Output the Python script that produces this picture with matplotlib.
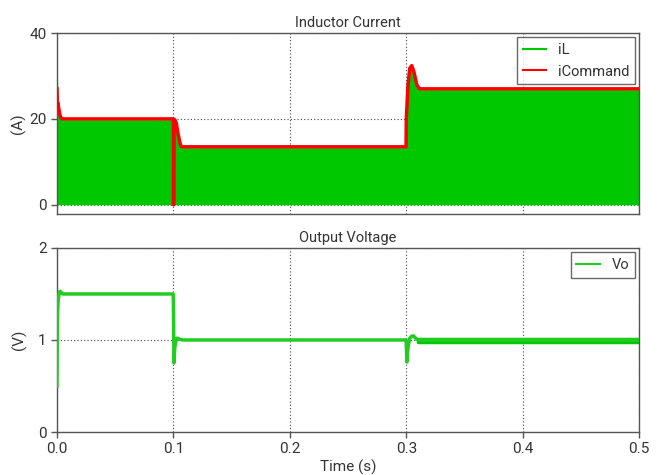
import matplotlib
matplotlib.use("Agg")
import matplotlib.pyplot as plt
from matplotlib.lines import Line2D

# ---------------------------------------------------------------------------
# Data (time in s)
# ---------------------------------------------------------------------------
# iL switching envelope: the ripple spans from 0 up to this upper edge
IL_T = [0.0, 0.0002, 0.0006, 0.0012, 0.002, 0.003, 0.0045, 0.0998,
        0.1, 0.1003, 0.1012, 0.1025, 0.104, 0.106, 0.107, 0.2995,
        0.3, 0.3015, 0.303, 0.3047, 0.3065, 0.309, 0.311, 0.312, 0.5]
IL_HI = [0.0, 33.5, 28.0, 24.0, 22.5, 21.0, 19.8, 19.8,
         19.6, 19.5, 19.6, 18.8, 16.5, 14.0, 13.3, 13.3,
         20.0, 27.5, 31.6, 32.1, 30.8, 27.8, 26.9, 26.8, 26.8]
IL_LO = 0.0

ICMD_T = [0.0, 0.0003, 0.0008, 0.0015, 0.0025, 0.0035, 0.0045, 0.0998,
          0.1, 0.10015, 0.1004, 0.1012, 0.1025, 0.104, 0.106, 0.107,
          0.2998, 0.3, 0.3015, 0.303, 0.3047, 0.3065, 0.309, 0.311,
          0.312, 0.5]
ICMD = [27.0, 23.5, 23.8, 22.5, 21.0, 20.2, 20.0, 20.0,
        20.0, 0.0, 19.5, 19.8, 19.0, 16.5, 14.0, 13.5,
        13.5, 20.0, 28.0, 31.8, 32.4, 31.0, 28.0, 27.1,
        27.0, 27.0]

VO_T = [0.0, 0.0004, 0.001, 0.0018, 0.0026, 0.005, 0.0998,
        0.1, 0.1005, 0.1012, 0.102, 0.103, 0.105, 0.108, 0.2998,
        0.3, 0.3005, 0.3012, 0.302, 0.303, 0.3045, 0.306, 0.308, 0.31, 0.5]
VO = [0.5, 1.25, 1.42, 1.5, 1.53, 1.5, 1.5,
      1.4, 0.75, 0.92, 0.98, 1.02, 1.01, 1.0, 1.0,
      0.95, 0.76, 0.88, 0.96, 1.02, 1.04, 1.045, 1.02, 1.0, 1.0]
# steady-state ripple band of Vo after the second step
VO_BAND_T = [0.31, 0.5]
VO_BAND_LO = [0.975, 0.975]
VO_BAND_HI = [1.015, 1.015]

GREEN = "#00c800"
VO_GREEN = "#22cc22"
RED = "#ff0000"
SPINE = "#555555"
TXT = "#333333"

plt.rcParams["font.family"] = ["Roboto", "DejaVu Sans"]

fig = plt.figure(figsize=(6.7, 4.75), dpi=100)
ax1 = fig.add_axes([0.085, 0.549, 0.869, 0.3815])
ax2 = fig.add_axes([0.085, 0.0905, 0.869, 0.3875])


def style(ax):
    for s in ax.spines.values():
        s.set_color(SPINE)
        s.set_linewidth(1.0)
    ax.tick_params(colors=SPINE, labelcolor=TXT, labelsize=11, length=4,
                   width=1)
    ax.grid(True, color="#444444", ls=(0, (1, 2)), lw=0.8)
    ax.set_axisbelow(True)
    ax.set_xlim(0, 0.5)
    ax.set_xticks([0, 0.1, 0.2, 0.3, 0.4, 0.5])


def legend(ax, handles, labels):
    leg = ax.legend(handles, labels, loc="upper right", fontsize=10.5,
                    frameon=True, fancybox=False, edgecolor="#444444",
                    handlelength=1.6, borderaxespad=0.3, labelcolor=TXT)
    leg.get_frame().set_linewidth(1.0)


# -- inductor current -------------------------------------------------------
style(ax1)
ax1.fill_between(IL_T, IL_LO, IL_HI, color=GREEN, lw=0, zorder=2)
ax1.plot(ICMD_T, ICMD, color=RED, lw=2.5, zorder=3)
ax1.set_ylim(-2.2, 40)
ax1.set_yticks([0, 20, 40])
ax1.tick_params(axis="x", bottom=False, labelbottom=False)
ax1.set_ylabel("(A)", color=TXT, fontsize=11, labelpad=2)
ax1.set_title("Inductor Current", fontsize=10.5, color=TXT, pad=4)
legend(ax1, [Line2D([], [], color=GREEN, lw=1.5),
             Line2D([], [], color=RED, lw=1.5)], ["iL", "iCommand"])

# -- output voltage ---------------------------------------------------------
style(ax2)
ax2.fill_between(VO_BAND_T, VO_BAND_LO, VO_BAND_HI, color=GREEN, lw=2.5,
                 edgecolor=GREEN, zorder=2)
ax2.plot(VO_T, VO, color=VO_GREEN, lw=2.5, zorder=3)
ax2.set_ylim(0, 2)
ax2.set_yticks([0, 1, 2])
ax2.set_xticklabels(["0.0", "0.1", "0.2", "0.3", "0.4", "0.5"])
ax2.set_ylabel("(V)", color=TXT, fontsize=11, labelpad=8)
ax2.set_xlabel("Time (s)", color=TXT, fontsize=11, labelpad=2)
ax2.set_title("Output Voltage", fontsize=10.5, color=TXT, pad=4)
legend(ax2, [Line2D([], [], color=VO_GREEN, lw=1.5)], ["Vo"])

fig.savefig("out.png", dpi=100)
